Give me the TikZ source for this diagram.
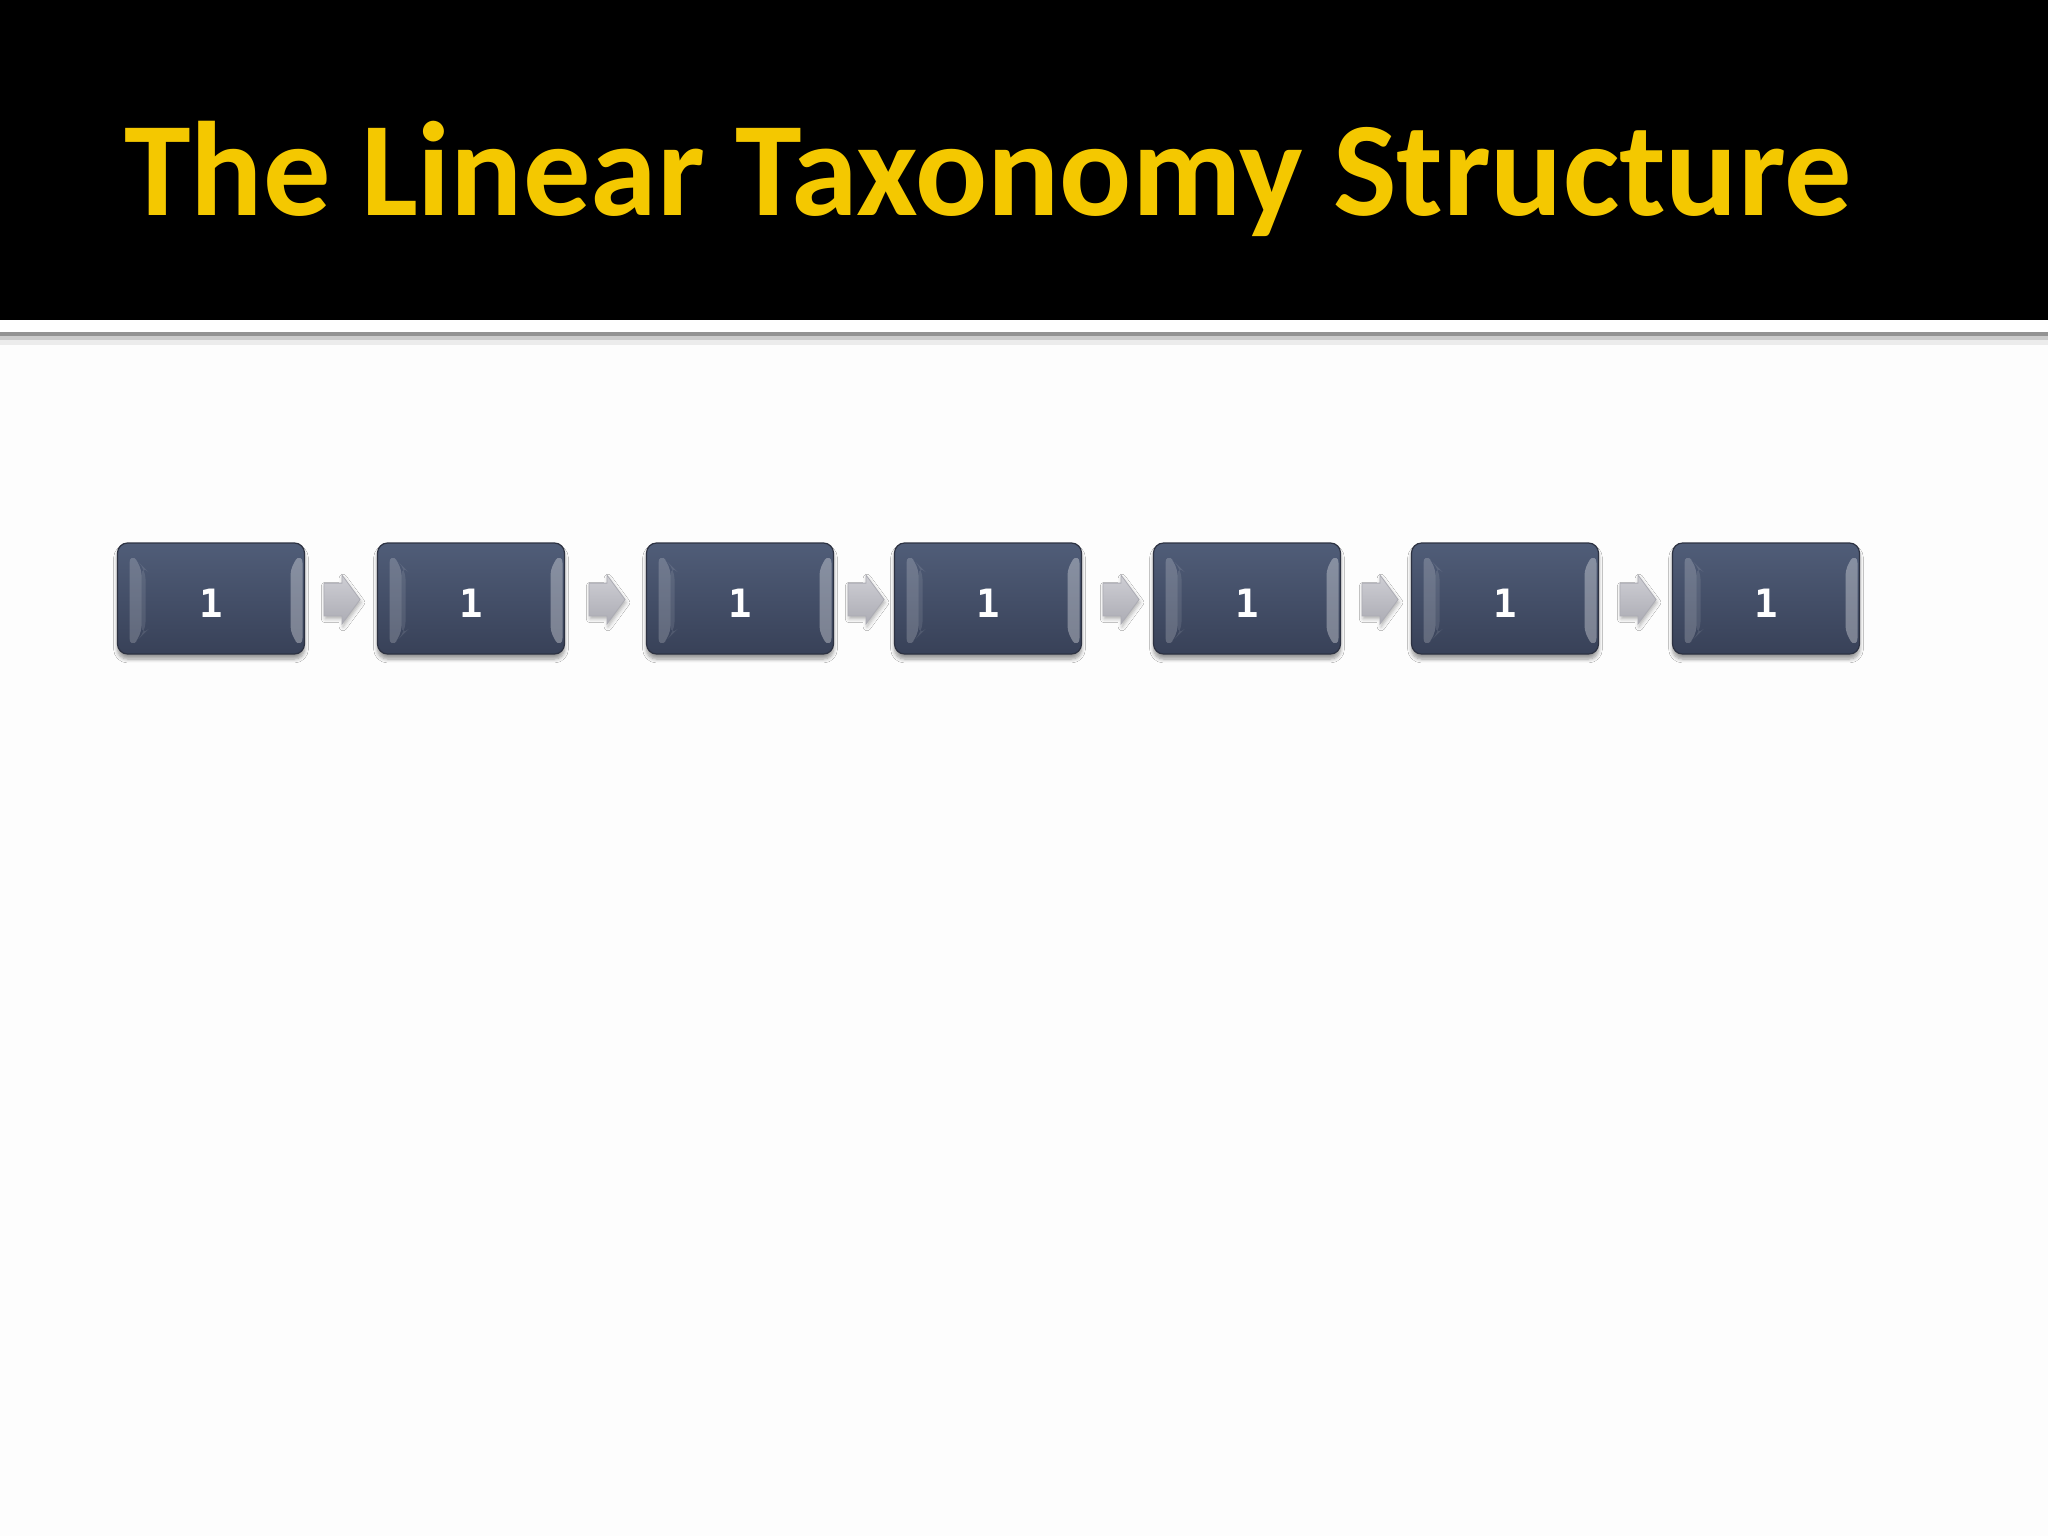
\documentclass[tikz,border=0pt]{standalone}
\usepackage{fontspec}
\setmainfont{Carlito}
\newfontfamily\monofnt{DejaVu Sans Mono}
\usetikzlibrary{shapes.arrows,shadows.blur}
\definecolor{titleyellow}{RGB}{244,200,0}
\definecolor{boxtop}{RGB}{80,93,120}
\definecolor{boxbot}{RGB}{56,65,88}
\definecolor{boxedge}{RGB}{45,50,66}
\definecolor{arrowlight}{RGB}{206,206,212}
\definecolor{arrowdark}{RGB}{172,172,180}
\newcommand{\lowone}{\raisebox{0pt}[\dimexpr\height+5pt\relax][0pt]{1}}
\tikzset{
  stepbox/.style={rounded corners=5pt, draw=boxedge, line width=0.6pt,
    top color=boxtop, bottom color=boxbot,
    minimum width=93.5pt, minimum height=55.5pt, inner sep=0pt,
    text=white, font=\monofnt\bfseries\fontsize{19.5}{19.5}\selectfont,
    blur shadow={shadow xshift=0pt, shadow yshift=-2.5pt, shadow blur steps=6, shadow opacity=40},
    path picture={
      \fill[white,opacity=0.2]
        ([xshift=6pt,yshift=-5pt]path picture bounding box.north west) --
        ([xshift=12pt,yshift=-11pt]path picture bounding box.north west) --
        ([xshift=12pt,yshift=9pt]path picture bounding box.south west) --
        ([xshift=6pt,yshift=3pt]path picture bounding box.south west) -- cycle;
      \fill[white,opacity=0.1]
        ([xshift=12pt,yshift=-11pt]path picture bounding box.north west) --
        ([xshift=14pt,yshift=-13pt]path picture bounding box.north west) --
        ([xshift=14pt,yshift=11pt]path picture bounding box.south west) --
        ([xshift=12pt,yshift=9pt]path picture bounding box.south west) -- cycle;
      \fill[white,opacity=0.33]
        ([xshift=-1pt,yshift=-5pt]path picture bounding box.north east) --
        ([xshift=-7pt,yshift=-11pt]path picture bounding box.north east) --
        ([xshift=-7pt,yshift=9pt]path picture bounding box.south east) --
        ([xshift=-1pt,yshift=3pt]path picture bounding box.south east) -- cycle;
    }},
  flowarrow/.style={single arrow, draw=arrowdark, line width=0.4pt,
    top color=arrowlight, bottom color=arrowdark,
    inner xsep=0pt, inner ysep=8pt, single arrow head extend=4pt,
    single arrow tip angle=107, minimum height=18pt,
    blur shadow={shadow xshift=0.5pt, shadow yshift=-1.5pt, shadow blur steps=4, shadow opacity=30}},
}
\begin{document}
\begin{tikzpicture}[x=0.5pt,y=-0.5pt]
\useasboundingbox (0,0) rectangle (2048,1536);
\fill[white!99.3!black] (0,0) rectangle (2048,1536);
\fill[white] (0,320) rectangle (2048,332);
\fill[black] (0,0) rectangle (2048,320);
\fill[gray!40] (0,335) rectangle (2048,340);
\fill[gray!15] (0,340) rectangle (2048,345);
\fill[gray!85] (0,331.5) rectangle (2048,335.5);
\node[anchor=base west, inner sep=0pt, text=titleyellow,
  font=\bfseries\fontsize{67.2}{67.2}\selectfont] (title) at (124,215)
  {The Linear Taxonomy Structure};
% boxes
\node[stepbox] (b1) at (211,598.5) {\lowone};
\node[stepbox] (b2) at (471,598.5) {\lowone};
\node[stepbox] (b3) at (740,598.5) {\lowone};
\node[stepbox] (b4) at (988,598.5) {\lowone};
\node[stepbox] (b5) at (1247,598.5) {\lowone};
\node[stepbox] (b6) at (1505,598.5) {\lowone};
\node[stepbox] (b7) at (1766,598.5) {\lowone};
% arrows
\node[flowarrow] (a1) at (336,599.5) {};
\node[flowarrow] (a2) at (601,599.5) {};
\node[flowarrow] (a3) at (860,599.5) {};
\node[flowarrow] (a4) at (1115,599.5) {};
\node[flowarrow] (a5) at (1374,599.5) {};
\node[flowarrow] (a6) at (1632,599.5) {};
\end{tikzpicture}
\end{document}
